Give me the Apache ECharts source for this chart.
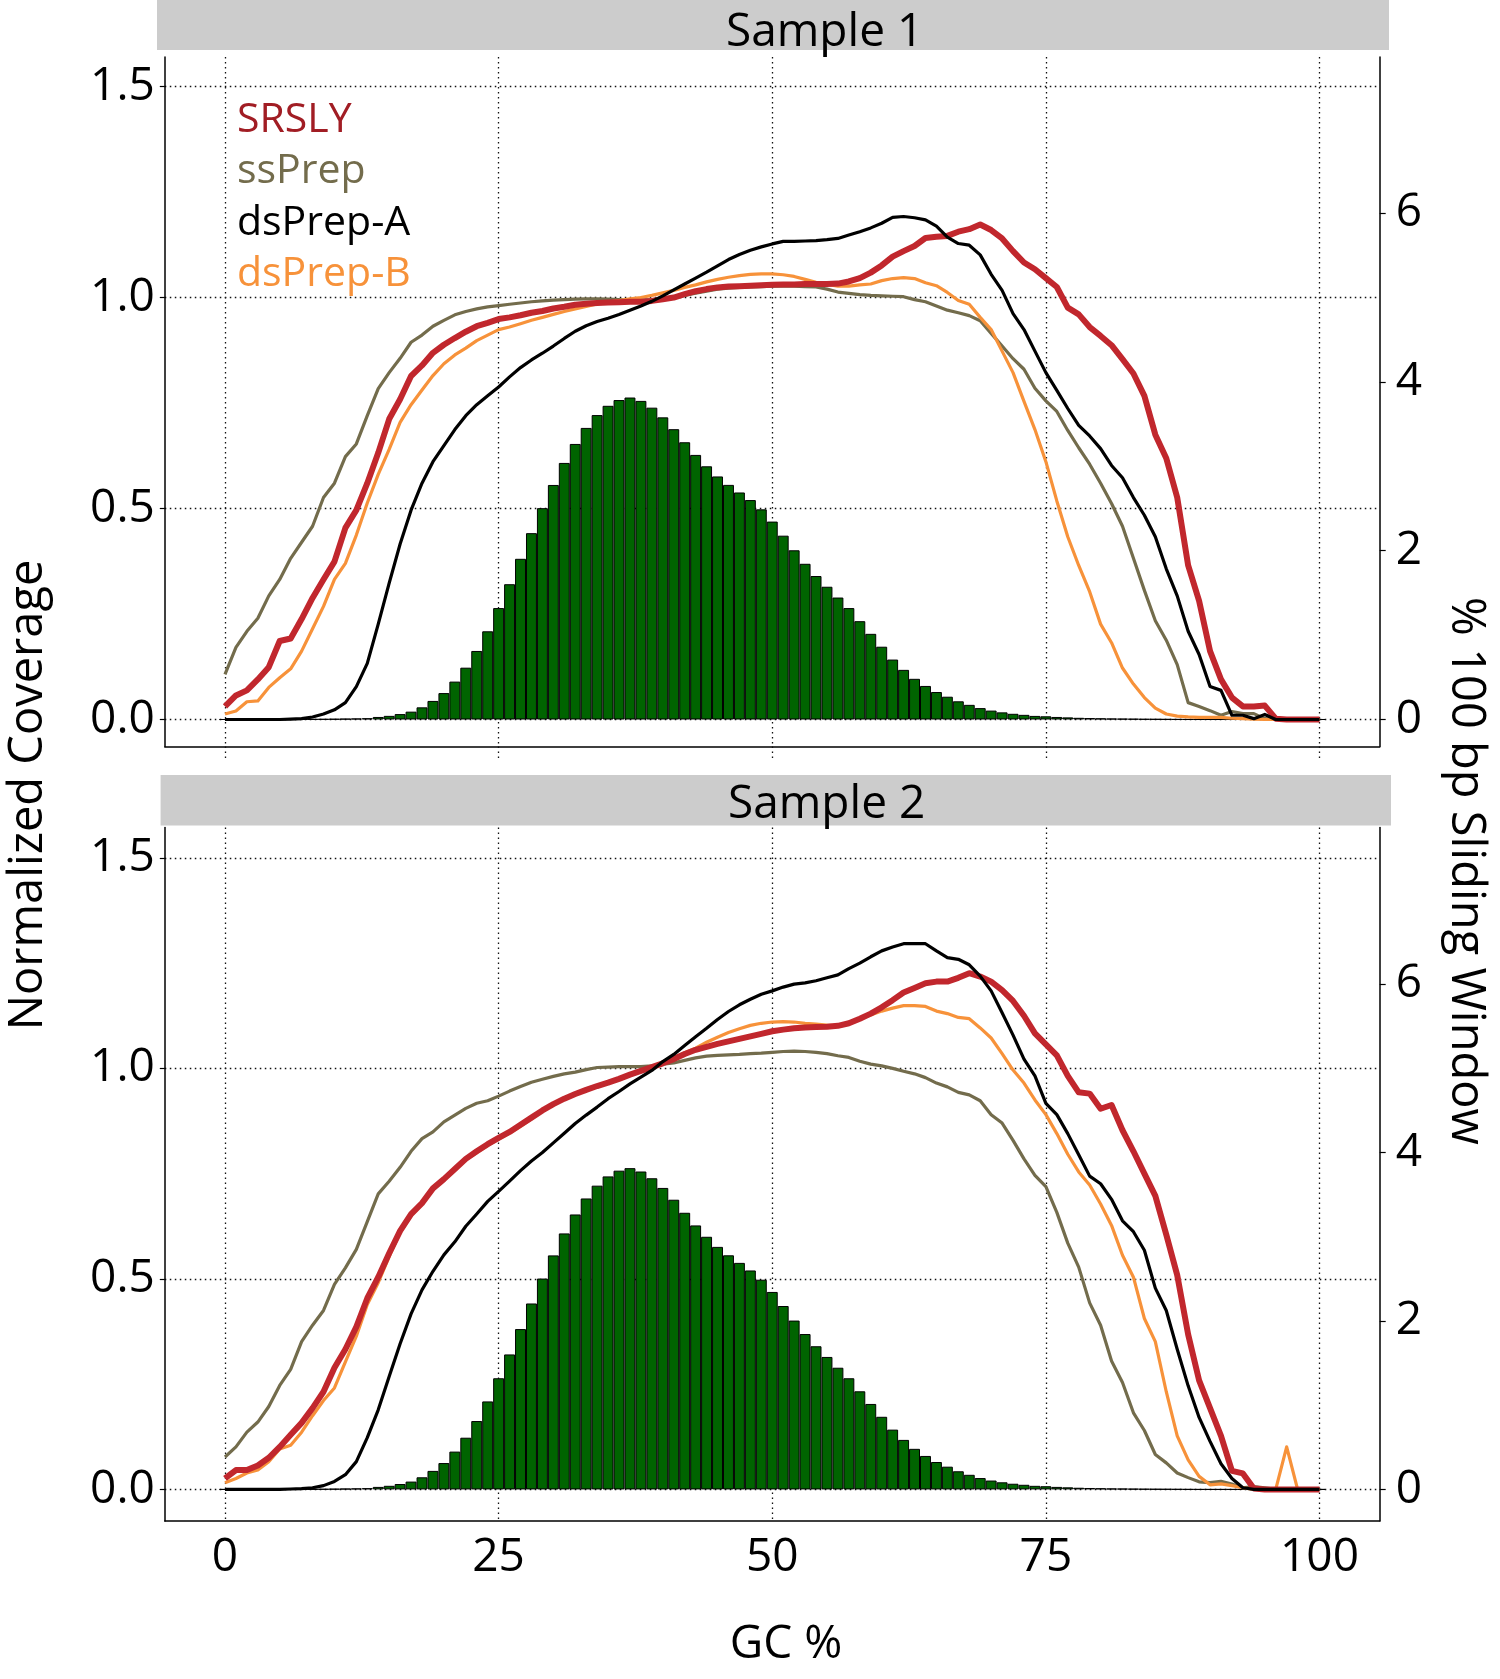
<!DOCTYPE html>
<html>
<head>
<meta charset="utf-8">
<script src="https://cdn.jsdelivr.net/npm/echarts@6/dist/echarts.min.js"></script>
<style>
html,body{margin:0;padding:0;background:#ffffff;}
#chart{width:1500px;height:1679px;}
</style>
</head>
<body>
<div id="chart"></div>
<script>
// ---------------- data ----------------
const gcPercent = [
  0,1,2,3,4,5,6,7,8,9,10,11,12,13,14,15,16,17,18,19,20,21,22,23,24,25,26,27,28,29,
  30,31,32,33,34,35,36,37,38,39,40,41,42,43,44,45,46,47,48,49,50,51,52,53,54,55,56,57,58,59,
  60,61,62,63,64,65,66,67,68,69,70,71,72,73,74,75,76,77,78,79,80,81,82,83,84,85,86,87,88,89,
  90,91,92,93,94,95,96,97,98,99,100
];
const xTicks = [0, 25, 50, 75, 100];
const coverageTicks = [0, 0.5, 1.0, 1.5];
const windowTicks = [0, 2, 4, 6];
const seriesNames = ['SRSLY', 'ssPrep', 'dsPrep-A', 'dsPrep-B'];
const panelTitles = ['Sample 1', 'Sample 2'];

// % of 100 bp sliding windows at each GC % (right axis)
const windowPct = [
  0,0,0,0,0,0,0,0.002,0.003,0.004,
  0.006,0.009,0.012,0.015,0.03,0.043,0.064,0.093,0.144,0.22,
  0.313,0.449,0.614,0.812,1.045,1.32,1.603,1.904,2.208,2.504,
  2.779,3.04,3.265,3.455,3.607,3.717,3.785,3.815,3.775,3.695,
  3.58,3.44,3.285,3.135,3.0,2.88,2.78,2.69,2.6,2.49,
  2.345,2.178,2.005,1.845,1.7,1.573,1.445,1.32,1.165,1.015,
  0.8625,0.71,0.588,0.482,0.3975,0.3255,0.27,0.2155,0.1735,0.135,
  0.1055,0.0845,0.0675,0.055,0.0425,0.038,0.03,0.025,0.02,0.017,
  0.014,0.011,0.009,0.007,0.005,0.004,0.003,0.002,0.001,0,
  0,0,0,0,0,0,0,0,0,0,
  0
];

// Sample 1 normalized coverage
const s1Srsly = [
  0.031,0.057,0.069,0.095,0.124,0.186,0.192,0.238,0.288,0.332,
  0.374,0.454,0.496,0.56,0.632,0.712,0.759,0.814,0.839,0.869,
  0.888,0.904,0.919,0.932,0.94,0.949,0.953,0.958,0.964,0.968,
  0.974,0.978,0.983,0.985,0.987,0.988,0.989,0.99,0.99,0.992,
  0.996,1.0,1.008,1.015,1.02,1.024,1.026,1.027,1.028,1.029,
  1.03,1.031,1.031,1.032,1.032,1.032,1.033,1.038,1.046,1.059,
  1.076,1.097,1.11,1.122,1.141,1.144,1.146,1.156,1.162,1.173,
  1.16,1.14,1.11,1.083,1.067,1.046,1.025,0.976,0.96,0.93,
  0.909,0.887,0.854,0.82,0.767,0.675,0.619,0.526,0.365,0.281,
  0.162,0.095,0.052,0.031,0.031,0.033,0.002,0,0,0,
  0
];
const s1SsPrep = [
  0.107,0.171,0.209,0.24,0.293,0.332,0.382,0.42,0.458,0.526,
  0.56,0.623,0.653,0.72,0.784,0.822,0.856,0.894,0.911,0.932,
  0.946,0.959,0.967,0.973,0.978,0.981,0.984,0.987,0.99,0.992,
  0.994,0.995,0.996,0.997,0.997,0.996,0.995,0.994,0.994,0.995,
  0.997,1.0,1.005,1.01,1.015,1.02,1.022,1.024,1.025,1.026,
  1.027,1.027,1.027,1.026,1.025,1.02,1.013,1.01,1.007,1.005,
  1.004,1.003,1.002,0.995,0.99,0.98,0.97,0.964,0.957,0.945,
  0.915,0.885,0.855,0.83,0.785,0.755,0.73,0.685,0.644,0.605,
  0.56,0.512,0.458,0.382,0.306,0.234,0.188,0.13,0.04,0.031,
  0.021,0.01,0.019,0.014,0.014,0.002,0,0,0,0,
  0
];
const s1DsPrepA = [
  0,0,0,0,0,0,0.001,0.002,0.006,0.013,
  0.023,0.04,0.078,0.133,0.226,0.323,0.416,0.496,0.56,0.611,
  0.649,0.687,0.72,0.746,0.767,0.788,0.812,0.834,0.852,0.868,
  0.885,0.903,0.92,0.933,0.943,0.951,0.96,0.97,0.98,0.991,
  1.004,1.018,1.032,1.046,1.06,1.075,1.09,1.102,1.112,1.12,
  1.127,1.133,1.133,1.134,1.135,1.137,1.14,1.148,1.156,1.165,
  1.176,1.19,1.192,1.189,1.184,1.169,1.143,1.128,1.124,1.101,
  1.055,1.017,0.962,0.924,0.873,0.822,0.78,0.737,0.697,0.672,
  0.642,0.602,0.573,0.526,0.484,0.433,0.357,0.293,0.209,0.154,
  0.078,0.069,0.01,0.01,0.002,0.012,0,0,0,0,
  0
];
const s1DsPrepB = [
  0.013,0.02,0.042,0.044,0.076,0.099,0.12,0.162,0.215,0.268,
  0.332,0.37,0.437,0.513,0.581,0.64,0.704,0.746,0.781,0.815,
  0.843,0.864,0.88,0.898,0.911,0.924,0.93,0.938,0.946,0.953,
  0.96,0.967,0.973,0.979,0.985,0.989,0.993,0.997,1.0,1.005,
  1.011,1.017,1.024,1.03,1.037,1.043,1.048,1.052,1.055,1.056,
  1.056,1.054,1.05,1.043,1.036,1.031,1.027,1.027,1.03,1.032,
  1.04,1.045,1.047,1.045,1.035,1.028,1.012,0.993,0.984,0.953,
  0.924,0.873,0.822,0.754,0.687,0.611,0.518,0.433,0.365,0.303,
  0.226,0.182,0.122,0.084,0.052,0.027,0.013,0.008,0.006,0.005,
  0.005,0.005,0.003,0.002,0.001,0,0,0,0,0,
  0
];

// Sample 2 normalized coverage
const s2Srsly = [
  0.026,0.046,0.046,0.057,0.075,0.101,0.13,0.158,0.193,0.232,
  0.289,0.333,0.386,0.454,0.504,0.561,0.614,0.654,0.68,0.715,
  0.737,0.761,0.785,0.803,0.82,0.835,0.849,0.866,0.883,0.9,
  0.915,0.928,0.939,0.949,0.958,0.966,0.975,0.985,0.994,1.003,
  1.012,1.022,1.034,1.044,1.051,1.058,1.064,1.07,1.076,1.082,
  1.088,1.092,1.095,1.097,1.098,1.099,1.101,1.107,1.118,1.13,
  1.145,1.162,1.18,1.191,1.202,1.206,1.206,1.215,1.226,1.218,
  1.206,1.186,1.16,1.125,1.083,1.057,1.031,0.982,0.943,0.94,
  0.904,0.913,0.853,0.803,0.75,0.697,0.605,0.509,0.368,0.259,
  0.193,0.127,0.044,0.038,0.002,0,0,0,0,0,
  0
];
const s2SsPrep = [
  0.077,0.101,0.136,0.16,0.197,0.247,0.285,0.351,0.39,0.425,
  0.487,0.526,0.57,0.636,0.702,0.732,0.765,0.803,0.833,0.849,
  0.873,0.889,0.905,0.917,0.923,0.934,0.946,0.957,0.967,0.974,
  0.981,0.987,0.991,0.997,1.002,1.003,1.004,1.004,1.004,1.006,
  1.01,1.013,1.019,1.025,1.029,1.031,1.032,1.033,1.035,1.036,
  1.038,1.04,1.041,1.04,1.038,1.035,1.03,1.026,1.017,1.01,
  1.006,1.0,0.993,0.987,0.978,0.965,0.956,0.943,0.937,0.923,
  0.89,0.87,0.829,0.785,0.746,0.719,0.658,0.585,0.528,0.443,
  0.39,0.305,0.254,0.182,0.14,0.083,0.063,0.039,0.028,0.018,
  0.016,0.019,0.013,0.004,0.007,0.004,0,0,0,0,
  0
];
const s2DsPrepA = [
  0,0,0,0,0,0,0.001,0.002,0.004,0.009,
  0.019,0.035,0.066,0.123,0.189,0.268,0.346,0.417,0.474,0.518,
  0.557,0.588,0.625,0.654,0.684,0.708,0.732,0.757,0.78,0.8,
  0.823,0.846,0.869,0.889,0.908,0.928,0.945,0.963,0.979,0.995,
  1.016,1.033,1.054,1.075,1.095,1.116,1.135,1.151,1.164,1.176,
  1.184,1.193,1.2,1.203,1.208,1.215,1.222,1.237,1.25,1.265,
  1.279,1.288,1.296,1.296,1.296,1.279,1.263,1.259,1.246,1.219,
  1.184,1.132,1.079,1.022,0.982,0.917,0.89,0.845,0.795,0.744,
  0.726,0.689,0.638,0.612,0.568,0.478,0.425,0.333,0.246,0.171,
  0.114,0.061,0.026,0.004,0,0,0,0,0,0,
  0
];
const s2DsPrepB = [
  0.016,0.026,0.039,0.046,0.066,0.096,0.105,0.136,0.175,0.211,
  0.241,0.303,0.364,0.439,0.491,0.553,0.61,0.65,0.677,0.712,
  0.735,0.759,0.783,0.8,0.817,0.832,0.846,0.862,0.88,0.898,
  0.914,0.928,0.938,0.948,0.957,0.966,0.975,0.985,0.995,1.004,
  1.014,1.025,1.037,1.048,1.062,1.074,1.085,1.094,1.102,1.107,
  1.11,1.111,1.11,1.107,1.105,1.103,1.102,1.108,1.118,1.127,
  1.136,1.143,1.149,1.149,1.147,1.136,1.13,1.121,1.118,1.096,
  1.072,1.035,0.996,0.965,0.925,0.89,0.845,0.796,0.754,0.723,
  0.678,0.627,0.556,0.504,0.406,0.351,0.232,0.127,0.07,0.031,
  0.011,0.013,0.009,0.004,0,0,0,0.101,0,0,
  0
];

// ---------------- style ----------------
const FONT = '"Open Sans", "Noto Sans", sans-serif';
const lineColors = { 'SRSLY': '#C1272D', 'ssPrep': '#736C4C', 'dsPrep-A': '#000000', 'dsPrep-B': '#F7923A' };
const legendColors = { 'SRSLY': '#A11D24', 'ssPrep': '#736C4C', 'dsPrep-A': '#000000', 'dsPrep-B': '#F7923A' };
const lineWidths = { 'SRSLY': 6, 'ssPrep': 3.2, 'dsPrep-A': 3.2, 'dsPrep-B': 3.2 };
const lineZ = { 'ssPrep': 3, 'dsPrep-B': 4, 'SRSLY': 5, 'dsPrep-A': 6 };
const dotted = { color: '#111', width: 1.3, type: [1.5, 3.5] };

const pair = (vals) => gcPercent.map((g, i) => [g, vals[i]]);

const panels = [
  { top: 57, height: 689.5, yMin: -0.064, yMax: 1.570, rMin: -0.32, rMax: 7.85,
    data: { 'SRSLY': s1Srsly, 'ssPrep': s1SsPrep, 'dsPrep-A': s1DsPrepA, 'dsPrep-B': s1DsPrepB }, showX: false },
  { top: 827.5, height: 693.5, yMin: -0.075, yMax: 1.572, rMin: -0.375, rMax: 7.86,
    data: { 'SRSLY': s2Srsly, 'ssPrep': s2SsPrep, 'dsPrep-A': s2DsPrepA, 'dsPrep-B': s2DsPrepB }, showX: true }
];

const GRID_LEFT = 164.8, GRID_WIDTH = 1214.9;

const grid = [], xAxis = [], yAxis = [], series = [];
panels.forEach((p, i) => {
  grid.push({ left: GRID_LEFT, width: GRID_WIDTH, top: p.top, height: p.height, containLabel: false });
  xAxis.push({
    type: 'value', gridIndex: i, min: -5.5, max: 105.5,
    axisLine: { show: true, onZero: false, lineStyle: { color: '#000', width: 1.5 } },
    axisTick: { show: !p.showX, customValues: xTicks, length: 14, lineStyle: dotted },
    axisLabel: { show: p.showX, customValues: xTicks, color: '#000', fontFamily: FONT, fontSize: 46, margin: 14 },
    splitLine: { show: true, lineStyle: dotted }
  });
  yAxis.push({
    type: 'value', gridIndex: i, min: p.yMin, max: p.yMax, position: 'left',
    axisLine: { show: true, onZero: false, lineStyle: { color: '#000', width: 1.5 } },
    axisTick: { show: true, customValues: coverageTicks, length: 5, lineStyle: { color: '#000', width: 1.2 } },
    axisLabel: { customValues: coverageTicks, formatter: v => Number(v).toFixed(1), color: '#000', fontFamily: FONT, fontSize: 46, margin: 10 },
    splitLine: { show: true, lineStyle: dotted }
  });
  yAxis.push({
    type: 'value', gridIndex: i, min: p.rMin, max: p.rMax, position: 'right',
    axisLine: { show: true, onZero: false, lineStyle: { color: '#000', width: 1.5 } },
    axisTick: { show: true, customValues: windowTicks, length: 6, lineStyle: { color: '#000', width: 1.2 } },
    axisLabel: { customValues: windowTicks, formatter: v => String(Math.round(v)), color: '#000', fontFamily: FONT, fontSize: 46, margin: 16 },
    splitLine: { show: false }
  });
  series.push({
    name: 'GC windows', type: 'bar', xAxisIndex: i, yAxisIndex: i * 2 + 1,
    data: pair(windowPct), barWidth: 10.945, z: 2,
    itemStyle: { color: '#006400', borderColor: '#000', borderWidth: 1 },
    emphasis: { disabled: true }, silent: true
  });
  seriesNames.forEach(name => {
    series.push({
      name, type: 'line', xAxisIndex: i, yAxisIndex: i * 2,
      data: pair(p.data[name]), showSymbol: false, symbol: 'none', z: lineZ[name],
      lineStyle: { color: lineColors[name], width: lineWidths[name], join: 'round' },
      itemStyle: { color: lineColors[name] },
      emphasis: { disabled: true }, silent: true
    });
  });
});

const option = {
  animation: false,
  backgroundColor: '#ffffff',
  grid, xAxis, yAxis, series,
  legend: {
    show: true, orient: 'vertical', left: 232, top: 98,
    icon: 'none', itemWidth: 0, itemHeight: 0, itemGap: 7, selectedMode: false, padding: 0,
    textStyle: { fontFamily: FONT, fontSize: 41, lineHeight: 44.5, padding: 0 },
    data: seriesNames.map(n => ({ name: n, textStyle: { color: legendColors[n] } }))
  },
  graphic: [
    { type: 'rect', z: -10, shape: { x: 157, y: 0, width: 1232, height: 50 }, style: { fill: '#CCCCCC' } },
    { type: 'rect', z: -10, shape: { x: 160.6, y: 775, width: 1230.4, height: 50.5 }, style: { fill: '#CCCCCC' } },
    { type: 'text', x: 726, y: 33, style: { text: panelTitles[0], font: '46px ' + FONT, fill: '#000', align: 'left', verticalAlign: 'middle', textAlign: 'left', textVerticalAlign: 'middle' } },
    { type: 'text', x: 728, y: 805, style: { text: panelTitles[1], font: '46px ' + FONT, fill: '#000', align: 'left', verticalAlign: 'middle', textAlign: 'left', textVerticalAlign: 'middle' } },
    { type: 'text', x: 29, y: 795, rotation: Math.PI / 2, style: { text: 'Normalized Coverage', font: '47px ' + FONT, fill: '#000', align: 'center', verticalAlign: 'middle', textAlign: 'center', textVerticalAlign: 'middle' } },
    { type: 'text', x: 1465, y: 871, rotation: -Math.PI / 2, style: { text: '% 100 bp Sliding Window', font: '47px ' + FONT, fill: '#000', align: 'center', verticalAlign: 'middle', textAlign: 'center', textVerticalAlign: 'middle' } },
    { type: 'text', x: 786, y: 1645, style: { text: 'GC %', font: '46px ' + FONT, fill: '#000', align: 'center', verticalAlign: 'middle', textAlign: 'center', textVerticalAlign: 'middle' } }
  ]
};

const chart = echarts.init(document.getElementById('chart'), null, { renderer: 'canvas', width: 1500, height: 1679 });
chart.setOption(option);
</script>
</body>
</html>
